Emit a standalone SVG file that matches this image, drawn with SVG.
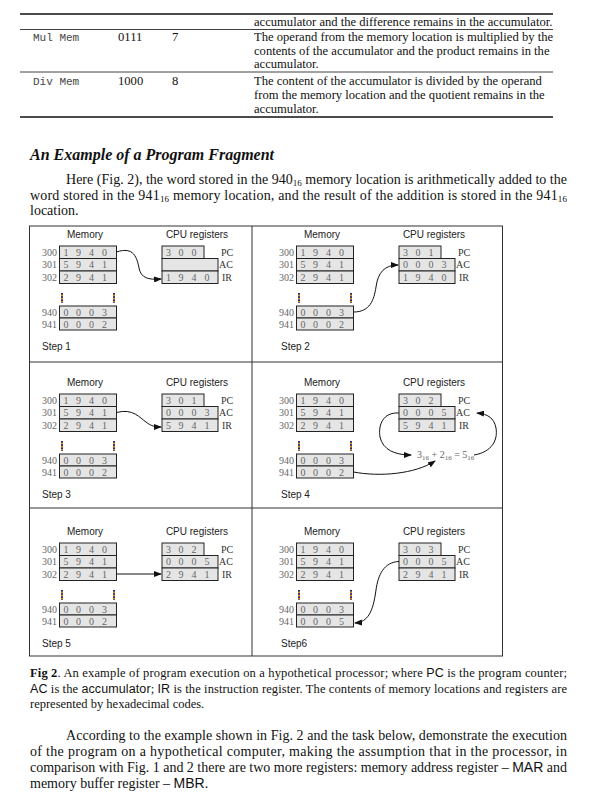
<svg xmlns="http://www.w3.org/2000/svg" width="609" height="797" viewBox="0 0 609 797">
<style>
.t{font-family:"Liberation Serif","Times New Roman",serif;fill:#111}
.tb{font-size:12.6px}
.mono{font-family:"Liberation Mono","Courier New",monospace;font-size:11px;fill:#444}
.body{font-size:14px}
.cap{font-size:12.5px}
.sans{font-family:"Liberation Sans",Arial,sans-serif}
.h{font-family:"Liberation Serif","Times New Roman",serif;font-size:16px;font-weight:bold;font-style:italic;fill:#111}
.ft{font-family:"Liberation Sans",Arial,sans-serif;font-size:10px;fill:#222}
.dg{font-family:"Liberation Serif","Times New Roman",serif;font-size:10px;fill:#666}
.rl{font-family:"Liberation Serif","Times New Roman",serif;font-size:10px;fill:#333}
.cell{fill:#e5e5e5;stroke:#222;stroke-width:1}
.rule{stroke:#111;fill:none}
.frame{fill:none;stroke:#333;stroke-width:1}
.dotA{stroke:#e08a1e;stroke-width:2}
.dotB{stroke:#1b2a7a;stroke-width:2;stroke-dasharray:1.6 1.6}
.arr{fill:none;stroke:#111;stroke-width:1;marker-end:url(#ah)}
</style>
<defs>
<marker id="ah" markerUnits="userSpaceOnUse" markerWidth="8" markerHeight="6" refX="7" refY="3" orient="auto">
<path d="M0,0 L8,3 L0,6 Z" fill="#111"/>
</marker>
<g id="memcol">
<rect class="cell" x="59.5" y="246" width="57" height="12.5"/>
<rect class="cell" x="59.5" y="258.5" width="57" height="12.5"/>
<rect class="cell" x="59.5" y="271" width="57" height="12.5"/>
<rect class="cell" x="59.5" y="306" width="57" height="12"/>
<rect class="cell" x="59.5" y="318" width="57" height="12"/>
<text class="dg" x="57" y="255.5" text-anchor="end">300</text>
<text class="dg" x="57" y="268" text-anchor="end">301</text>
<text class="dg" x="57" y="280.5" text-anchor="end">302</text>
<text class="dg" x="57" y="315.5" text-anchor="end">940</text>
<text class="dg" x="57" y="327.5" text-anchor="end">941</text>
<text class="dg" y="255.5"><tspan x="63.5">1</tspan><tspan x="76">9</tspan><tspan x="89">4</tspan><tspan x="102">0</tspan></text>
<text class="dg" y="268"><tspan x="63.5">5</tspan><tspan x="76">9</tspan><tspan x="89">4</tspan><tspan x="102">1</tspan></text>
<text class="dg" y="280.5"><tspan x="63.5">2</tspan><tspan x="76">9</tspan><tspan x="89">4</tspan><tspan x="102">1</tspan></text>
<text class="dg" y="315.5"><tspan x="63.5">0</tspan><tspan x="76">0</tspan><tspan x="89">0</tspan><tspan x="102">3</tspan></text>
<line class="dotA" x1="62" y1="293" x2="62" y2="303"/><line class="dotB" x1="62" y1="293" x2="62" y2="303"/>
<line class="dotA" x1="114" y1="293" x2="114" y2="303"/><line class="dotB" x1="114" y1="293" x2="114" y2="303"/>
<text class="ft" x="85" y="238" text-anchor="middle">Memory</text>
<text class="ft" x="197" y="238" text-anchor="middle">CPU registers</text>
<rect class="cell" x="162" y="246" width="42" height="12.5"/>
<rect class="cell" x="162" y="258.5" width="56" height="12.5"/>
<rect class="cell" x="162" y="271" width="56" height="12.5"/>
<text class="rl" x="221" y="255.5">PC</text>
<text class="rl" x="219" y="268">AC</text>
<text class="rl" x="222" y="280.5">IR</text>
</g>
</defs>

<g id="table">
<line class="rule" x1="20" y1="14" x2="553" y2="14" stroke-width="1.3"/>
<line class="rule" x1="20" y1="29.5" x2="553" y2="29.5" stroke-width="0.8"/>
<line class="rule" x1="20" y1="72" x2="553" y2="72" stroke-width="0.8"/>
<line class="rule" x1="20" y1="117" x2="553" y2="117" stroke-width="1.3"/>
<text class="t tb" x="254" y="26">accumulator and the difference remains in the accumulator.</text>
<text class="mono" x="33" y="41">Mul Mem</text>
<text class="t tb" x="118" y="41">0111</text>
<text class="t tb" x="172" y="41">7</text>
<text class="t tb" x="254" y="41">The operand from the memory location is multiplied by the</text>
<text class="t tb" x="254" y="55">contents of the accumulator and the product remains in the</text>
<text class="t tb" x="254" y="68">accumulator.</text>
<text class="mono" x="33" y="85">Div Mem</text>
<text class="t tb" x="118" y="85">1000</text>
<text class="t tb" x="172" y="85">8</text>
<text class="t tb" x="254" y="85">The content of the accumulator is divided by the operand</text>
<text class="t tb" x="254" y="99">from the memory location and the quotient remains in the</text>
<text class="t tb" x="254" y="113">accumulator.</text>
</g>

<g id="intro">
<text class="h" x="30" y="160">An Example of a Program Fragment</text>
<text class="t body" x="66" y="184" textLength="501" lengthAdjust="spacing">Here (Fig. 2), the word stored in the 940<tspan font-size="9" dy="2">16</tspan><tspan dy="-2"> memory location is arithmetically added to the</tspan></text>
<text class="t body" x="30" y="200" textLength="537" lengthAdjust="spacing">word stored in the 941<tspan font-size="9" dy="2">16</tspan><tspan dy="-2"> memory location, and the result of the addition is stored in the 941</tspan><tspan font-size="9" dy="2">16</tspan></text>
<text class="t body" x="30" y="215">location.</text>
</g>

<g id="frame">
<rect class="frame" x="29.5" y="226" width="473" height="430"/>
<line class="frame" x1="252" y1="226" x2="252" y2="656"/>
<line class="frame" x1="29.5" y1="362" x2="502.5" y2="362"/>
<line class="frame" x1="29.5" y1="508" x2="502.5" y2="508"/>
</g>

<g id="step1">
<use href="#memcol"/>
<text class="dg" y="327.5"><tspan x="63.5">0</tspan><tspan x="76">0</tspan><tspan x="89">0</tspan><tspan x="102">2</tspan></text>
<text class="dg" y="255.5"><tspan x="166">3</tspan><tspan x="178.5">0</tspan><tspan x="191.5">0</tspan></text>
<text class="dg" y="280.5"><tspan x="166">1</tspan><tspan x="178.5">9</tspan><tspan x="191.5">4</tspan><tspan x="204.5">0</tspan></text>
<text class="ft" x="42" y="350">Step 1</text>
</g>

<g id="step2" transform="translate(237,0)">
<use href="#memcol"/>
<text class="dg" y="327.5"><tspan x="63.5">0</tspan><tspan x="76">0</tspan><tspan x="89">0</tspan><tspan x="102">2</tspan></text>
<text class="dg" y="255.5"><tspan x="166">3</tspan><tspan x="178.5">0</tspan><tspan x="191.5">1</tspan></text>
<text class="dg" y="268"><tspan x="166">0</tspan><tspan x="178.5">0</tspan><tspan x="191.5">0</tspan><tspan x="204.5">3</tspan></text>
<text class="dg" y="280.5"><tspan x="166">1</tspan><tspan x="178.5">9</tspan><tspan x="191.5">4</tspan><tspan x="204.5">0</tspan></text>
<text class="ft" x="44" y="350">Step 2</text>
</g>

<g id="step3" transform="translate(0,148)">
<use href="#memcol"/>
<text class="dg" y="327.5"><tspan x="63.5">0</tspan><tspan x="76">0</tspan><tspan x="89">0</tspan><tspan x="102">2</tspan></text>
<text class="dg" y="255.5"><tspan x="166">3</tspan><tspan x="178.5">0</tspan><tspan x="191.5">1</tspan></text>
<text class="dg" y="268"><tspan x="166">0</tspan><tspan x="178.5">0</tspan><tspan x="191.5">0</tspan><tspan x="204.5">3</tspan></text>
<text class="dg" y="280.5"><tspan x="166">5</tspan><tspan x="178.5">9</tspan><tspan x="191.5">4</tspan><tspan x="204.5">1</tspan></text>
<text class="ft" x="42" y="350">Step 3</text>
</g>

<g id="step4" transform="translate(237,148)">
<use href="#memcol"/>
<text class="dg" y="327.5"><tspan x="63.5">0</tspan><tspan x="76">0</tspan><tspan x="89">0</tspan><tspan x="102">2</tspan></text>
<text class="dg" y="255.5"><tspan x="166">3</tspan><tspan x="178.5">0</tspan><tspan x="191.5">2</tspan></text>
<text class="dg" y="268"><tspan x="166">0</tspan><tspan x="178.5">0</tspan><tspan x="191.5">0</tspan><tspan x="204.5">5</tspan></text>
<text class="dg" y="280.5"><tspan x="166">5</tspan><tspan x="178.5">9</tspan><tspan x="191.5">4</tspan><tspan x="204.5">1</tspan></text>
<text class="ft" x="44" y="350">Step 4</text>
<text class="dg" x="180" y="310" font-size="10.5">3<tspan font-size="7" dy="2">16</tspan><tspan dy="-2"> + 2</tspan><tspan font-size="7" dy="2">16</tspan><tspan dy="-2"> = 5</tspan><tspan font-size="7" dy="2">16</tspan></text>
</g>

<g id="step5" transform="translate(0,297)">
<use href="#memcol"/>
<text class="dg" y="327.5"><tspan x="63.5">0</tspan><tspan x="76">0</tspan><tspan x="89">0</tspan><tspan x="102">2</tspan></text>
<text class="dg" y="255.5"><tspan x="166">3</tspan><tspan x="178.5">0</tspan><tspan x="191.5">2</tspan></text>
<text class="dg" y="268"><tspan x="166">0</tspan><tspan x="178.5">0</tspan><tspan x="191.5">0</tspan><tspan x="204.5">5</tspan></text>
<text class="dg" y="280.5"><tspan x="166">2</tspan><tspan x="178.5">9</tspan><tspan x="191.5">4</tspan><tspan x="204.5">1</tspan></text>
<text class="ft" x="42" y="350">Step 5</text>
</g>

<g id="step6" transform="translate(237,297)">
<use href="#memcol"/>
<text class="dg" y="327.5"><tspan x="63.5">0</tspan><tspan x="76">0</tspan><tspan x="89">0</tspan><tspan x="102">5</tspan></text>
<text class="dg" y="255.5"><tspan x="166">3</tspan><tspan x="178.5">0</tspan><tspan x="191.5">3</tspan></text>
<text class="dg" y="268"><tspan x="166">0</tspan><tspan x="178.5">0</tspan><tspan x="191.5">0</tspan><tspan x="204.5">5</tspan></text>
<text class="dg" y="280.5"><tspan x="166">2</tspan><tspan x="178.5">9</tspan><tspan x="191.5">4</tspan><tspan x="204.5">1</tspan></text>
<text class="ft" x="44" y="350">Step6</text>
</g>

<g id="connectors">
<path class="arr" d="M116.5,252 C134,246 137,258 139,268 C141,278 148,280 161,279"/>
<path class="arr" d="M353.5,312 C370,312 374,300 376,287 C378,272 385,265 398,265"/>
<path class="arr" d="M116.5,412.5 C133,408 140,418 146,422 C151,426 155,427 161,427"/>
<path class="arr" d="M399,413 C383,412 378,425 380,437 C383,450 395,455 411,455"/>
<path class="arr" d="M353.5,472 C380,477 415,474 435,461"/>
<path class="arr" d="M474,455 C492,452 498,440 496,428 C494,418 488,414 477,413"/>
<path class="arr" d="M116.5,574 L161,574"/>
<path class="arr" d="M399,561.5 C384,562 378,575 376,590 C373,612 368,622 355,623"/>
</g>

<g id="caption">
<text class="t cap" x="30" y="677" textLength="537" lengthAdjust="spacing"><tspan font-weight="bold">Fig 2</tspan>. An example of program execution on a hypothetical processor; where <tspan class="sans">PC</tspan> is the program counter;</text>
<text class="t cap" x="30" y="693" textLength="537" lengthAdjust="spacing"><tspan class="sans">AC</tspan> is the <tspan class="sans">accumulator</tspan>; <tspan class="sans">IR</tspan> is the instruction register. The contents of memory locations and registers are</text>
<text class="t cap" x="30" y="708">represented by hexadecimal codes.</text>
</g>

<g id="task">
<text class="t body" x="66" y="740" textLength="501" lengthAdjust="spacing">According to the example shown in Fig. 2 and the task below, demonstrate the execution</text>
<text class="t body" x="30" y="756" textLength="537" lengthAdjust="spacing">of the program on a hypothetical computer, making the assumption that in the processor, in</text>
<text class="t body" x="30" y="772" textLength="537" lengthAdjust="spacing">comparison with Fig. 1 and 2 there are two more registers: memory address register – <tspan class="sans">MAR</tspan> and</text>
<text class="t body" x="30" y="788">memory buffer register – <tspan class="sans">MBR</tspan>.</text>
</g>
</svg>
